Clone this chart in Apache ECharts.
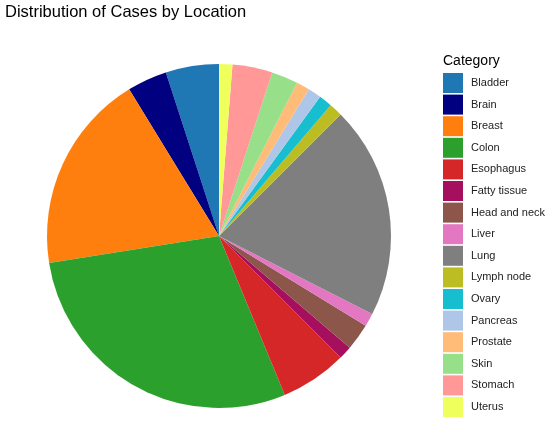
<!DOCTYPE html>
<html>
<head>
<meta charset="utf-8">
<script src="https://cdn.jsdelivr.net/npm/echarts@6/dist/echarts.min.js"></script>
<style>
html,body{margin:0;padding:0;background:#fff;}
#chart{width:550px;height:426px;}
</style>
</head>
<body>
<div id="chart"></div>
<script>
const categories = ["Bladder","Brain","Breast","Colon","Esophagus","Fatty tissue","Head and neck","Liver","Lung","Lymph node","Ovary","Pancreas","Prostate","Skin","Stomach","Uterus"];
const counts = [4,3,15,23,5,1,2,1,16,1,1,1,1,2,3,1];
const colors = ["#1f77b4","#000080","#ff7f0e","#2ca02c","#d62728","#a50f5e","#8c564b","#e377c2","#7f7f7f","#bcbd22","#17becf","#aec7e8","#ffbb78","#98df8a","#ff9896","#efff5c"];

const chart = echarts.init(document.getElementById('chart'), null, {renderer:'canvas'});
chart.setOption({
  animation: false,
  backgroundColor: '#ffffff',
  color: colors,
  title: [{
    text: 'Distribution of Cases by Location',
    left: 5, top: 4, padding: 0,
    textStyle: {fontFamily: 'Liberation Sans, Arial, sans-serif', fontSize: 16.5, fontWeight: 'normal', color: '#000'}
  },{
    text: 'Category',
    left: 443, top: 54, padding: 0,
    textStyle: {fontFamily: 'Liberation Sans, Arial, sans-serif', fontSize: 14, fontWeight: 'normal', color: '#000'}
  }],
  legend: {
    orient: 'vertical',
    left: 443, top: 73, padding: 0,
    height: 350,
    itemWidth: 20, itemHeight: 20, itemGap: 1.6,
    icon: 'rect',
    data: categories,
    textStyle: {fontFamily: 'Liberation Sans, Arial, sans-serif', fontSize: 11, color: '#222', padding: [0,0,0,3]}
  },
  series: [{
    type: 'pie',
    center: [219, 236],
    radius: [0, 172],
    startAngle: 90,
    clockwise: false,
    label: {show: false},
    labelLine: {show: false},
    emphasis: {disabled: true},
    itemStyle: {borderWidth: 0},
    data: categories.map((c, i) => ({name: c, value: counts[i]}))
  }]
});
</script>
</body>
</html>
